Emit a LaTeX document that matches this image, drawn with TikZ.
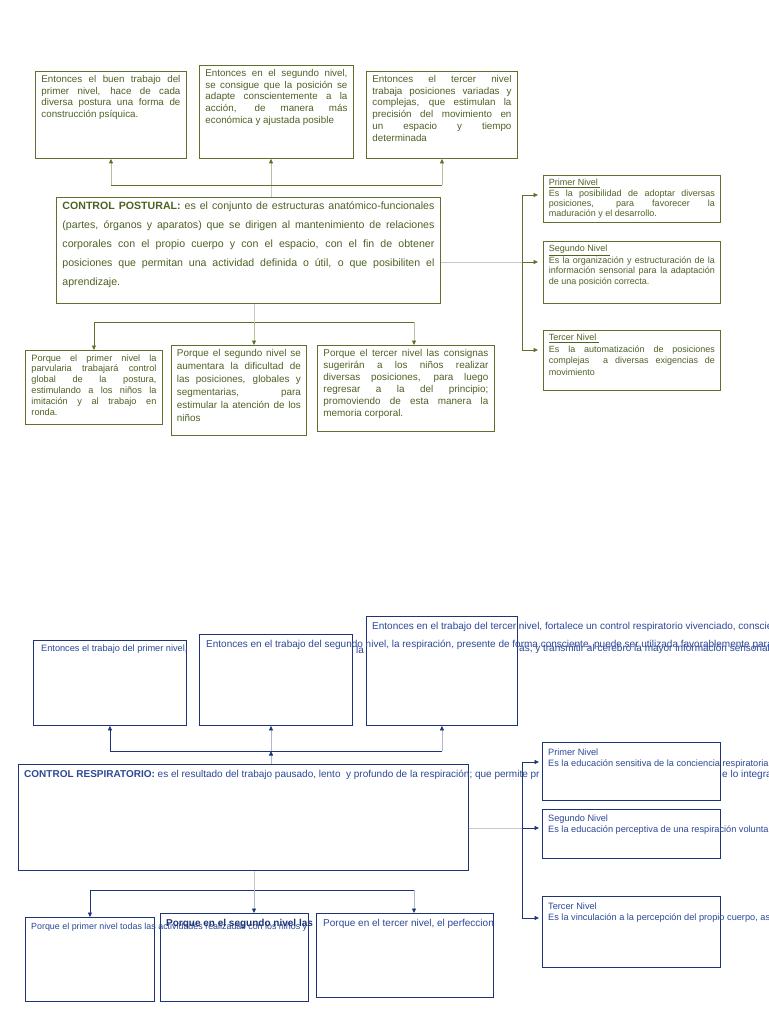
\documentclass[tikz,border=0pt]{standalone}
\usepackage{fontspec}
\setmainfont{Liberation Sans}
\usetikzlibrary{arrows.meta,positioning}
\definecolor{olv}{RGB}{94,112,44}
\definecolor{olvtxt}{RGB}{78,98,36}
\definecolor{nvy}{RGB}{30,52,118}
\definecolor{nvytxt}{RGB}{44,72,152}
\newcommand{\bx}[3]{\parbox[t][#2][t]{#1}{\sloppy\hyphenpenalty=10000 #3}}

\begin{document}
\begin{tikzpicture}[x=1pt,y=-1pt,
  gbox/.style={draw=olv,line width=0.9pt,fill=white,text=olvtxt,anchor=north west,
               inner xsep=6pt,inner ysep=4pt,font=\fontsize{9.8}{11.7}\selectfont},
  nbox/.style={draw=nvy,line width=0.9pt,fill=white,anchor=north west,inner sep=0pt},
  ntxt/.style={text=nvytxt,anchor=base west,inner sep=0pt,font=\fontsize{10}{12}\selectfont},
  nsml/.style={ntxt,font=\fontsize{9.2}{11}\selectfont},
  gl/.style={draw=olv,line width=0.8pt},
  nl/.style={draw=nvy,line width=0.8pt},
  lt/.style={draw=black!22,line width=0.8pt},
  ga/.style={gl,-{Triangle[length=4.5pt,width=4pt]}},
  gs/.style={ga,draw=olv!45,-{Triangle[length=4.5pt,width=4pt,color=olv]}},
  na/.style={nl,-{Triangle[length=4.5pt,width=4pt]}},
  ns/.style={na,draw=nvy!35,-{Triangle[length=4.5pt,width=4pt,color=nvy]}}]

\fill[white] (0,0) rectangle (768,1024);
\useasboundingbox (0,0) rectangle (768,1024);

% ---- control postural ----
\node[gbox] (pt1) at (35,71) {\bx{139pt}{79pt}{Entonces el buen trabajo del\linebreak primer nivel, hace de cada\linebreak diversa postura una forma de\linebreak construcción psíquica.}};
\node[gbox] (pt2) at (199,65) {\bx{142pt}{85pt}{Entonces en el segundo nivel,\linebreak se consigue que la posición se\linebreak adapte conscientemente a la\linebreak acción, de manera más\linebreak económica y ajustada posible}};
\node[gbox] (pt3) at (366,71) {\bx{139pt}{79pt}{Entonces el tercer nivel\linebreak trabaja posiciones variadas y\linebreak complejas, que estimulan la\linebreak precisión del movimiento en\linebreak un espacio y tiempo\linebreak determinada}};

\node[gbox,font=\fontsize{10.6}{19}\selectfont] (pc) at (56,197) {\bx{372pt}{98pt}{\textbf{CONTROL POSTURAL:} es el conjunto de estructuras anatómico-funcionales\linebreak (partes, órganos y aparatos) que se dirigen al mantenimiento de relaciones\linebreak corporales con el propio cuerpo y con el espacio, con el fin de obtener\linebreak posiciones que permitan una actividad definida o útil, o que posibiliten el\linebreak aprendizaje.}};

\node[gbox,inner xsep=5.5pt,font=\fontsize{9}{10.3}\selectfont] (pr1) at (543,175) {\bx{166pt}{39pt}{\underline{Primer Nivel\ }\\ Es la posibilidad de adoptar diversas\linebreak posiciones, para favorecer la\linebreak maduración y el desarrollo.}};
\node[gbox,inner xsep=5.5pt,font=\fontsize{9}{10.3}\selectfont] (pr2) at (543,241) {\bx{166pt}{54pt}{\underline{Segundo Nivel\ }\\ Es la organización y estructuración de la\linebreak información sensorial para la adaptación\linebreak de una posición correcta.}};
\node[gbox,inner xsep=5.5pt,font=\fontsize{9}{11.5}\selectfont] (pr3) at (543,330) {\bx{166pt}{52pt}{\underline{Tercer Nivel\ }\\ Es la automatización de posiciones\linebreak complejas\ \ a diversas exigencias de\linebreak movimiento}};

\node[gbox,font=\fontsize{9.2}{10.8}\selectfont] (pb1) at (25,350) {\bx{125pt}{66pt}{Porque el primer nivel la\linebreak parvularia trabajará control\linebreak global de la postura,\linebreak estimulando a los niños la\linebreak imitación y al trabajo en\linebreak ronda.}};
\node[gbox,inner xsep=5.5pt,font=\fontsize{9.9}{13}\selectfont] (pb2) at (171,345) {\bx{124pt}{82pt}{Porque el segundo nivel se\linebreak aumentara la dificultad de\linebreak las posiciones, globales y\linebreak segmentarias, para\linebreak estimular la atención de los\linebreak niños}};
\node[gbox,font=\fontsize{9.9}{12}\selectfont] (pb3) at (317,345) {\bx{165pt}{78pt}{Porque el tercer nivel las consignas\linebreak sugerirán a los niños realizar\linebreak diversas posiciones, para luego\linebreak regresar a la del principio;\linebreak promoviendo de esta manera la\linebreak memoria corporal.}};

\coordinate (tj) at (271,185);
\draw[lt] (pc.north -| tj) -- (tj);
\draw[gl] (tj -| pt1.south) -- (tj -| pt3.south);
\draw[gs] (tj -| pt1.south) -- (pt1.south);
\draw[gs] (tj) -- (tj |- pt2.south);
\draw[gs] (tj -| pt3.south) -- (pt3.south);

\coordinate (bj) at (254,322);
\coordinate (bj3) at (414,322);
\draw[lt] (bj |- pc.south) -- (bj);
\draw[gl] (bj -| pb1.north) -- (bj3);
\draw[ga] (bj -| pb1.north) -- (pb1.north);
\draw[gs] (bj) -- (bj |- pb2.north);
\draw[gs] (bj3) -- (bj3 |- pb3.north);

\coordinate (rj1) at (522,195);
\coordinate (rj) at (522,262);
\coordinate (rj3) at (522,350);
\draw[lt] (rj -| pc.east) -- (rj);
\draw[gl] (rj1) -- (rj3);
\draw[ga,shorten >=5pt] (rj1) -- (rj1 -| pr1.west);
\draw[ga,shorten >=5pt] (rj) -- (rj -| pr2.west);
\draw[ga,shorten >=5pt] (rj3) -- (rj3 -| pr3.west);

% ---- control respiratorio ----
\node[nbox,minimum width=153pt,minimum height=85pt] (rt1) at (33,640) {};
\node[nsml] (rt1a) at (41,651) {Entonces el trabajo del primer nivel,};
\node[ntxt] (rt1b) at (356,653) {la r};
\node[ntxt] (rt1c) at (519,651) {as, y transmitir al cerebro la mayor información sensorial};
\node[nbox,minimum width=153pt,minimum height=91pt] (rt2) at (199,634) {};
\node[nbox,minimum width=151pt,minimum height=109pt] (rt3) at (366,616) {};
\node[ntxt] (rt2a) at (206,647) {Entonces en el trabajo del segundo nivel, la respiración, presente de forma consciente, puede ser utilizada favorablemente para};
\node[ntxt] (rt3a) at (372,629) {Entonces en el trabajo del tercer nivel, fortalece un control respiratorio vivenciado, consciente};

\node[nbox,minimum width=450pt,minimum height=106pt] (rc) at (18,764) {};
\node[ntxt] (rca) at (24,777) {\textbf{CONTROL RESPIRATORIO:} es el resultado del trabajo pausado, lento\ \ y profundo de la respiración; que permite pr};

\node[nbox,minimum width=178pt,minimum height=58pt] (rr1) at (542,742) {};
\node[nbox,minimum width=178pt,minimum height=49pt] (rr2) at (542,809) {};
\node[nbox,minimum width=178pt,minimum height=71pt] (rr3) at (542,896) {};
\node[ntxt] (rcb) at (722,777) {e lo integra};
\node[nsml] (rr1a) at (548,755) {Primer Nivel};
\node[nsml] (rr1b) at (548,766) {Es la educación sensitiva de la conciencia respiratoria};
\node[nsml] (rr2a) at (548,821) {Segundo Nivel};
\node[nsml] (rr2b) at (548,832) {Es la educación perceptiva de una respiración voluntaria};
\node[nsml] (rr3a) at (548,909) {Tercer Nivel};
\node[nsml] (rr3b) at (548,920) {Es la vinculación a la percepción del propio cuerpo, asi};

\node[nbox,minimum width=129pt,minimum height=84pt] (rb1) at (25,917) {};
\node[nbox,minimum width=148pt,minimum height=88pt] (rb2) at (160,913) {};
\node[nbox,minimum width=177pt,minimum height=84pt] (rb3) at (316,913) {};
\node[nsml,font=\fontsize{8.9}{11}\selectfont] (rb1a) at (31,929) {Porque el primer nivel todas las actividades realizadas con los niños y};
\node[ntxt,text=nvy] (rb2a) at (166,926) {\textbf{Porque en el segundo nivel las}};
\node[ntxt] (rb3a) at (323,926) {Porque en el tercer nivel, el perfeccion};

\coordinate (tk) at (271,751);
\draw[ns] (rc.north -| tk) -- (tk);
\draw[nl] (tk -| rt1.south) -- (tk -| rt3.south);
\draw[na] (tk -| rt1.south) -- (rt1.south);
\draw[ns] (tk) -- (tk |- rt2.south);
\draw[ns] (tk -| rt3.south) -- (rt3.south);

\coordinate (bk) at (254,890);
\coordinate (bk3) at (414,890);
\draw[lt] (bk |- rc.south) -- (bk);
\draw[nl] (bk -| rb1.north) -- (bk3);
\draw[na] (bk -| rb1.north) -- (rb1.north);
\draw[ns] (bk) -- (bk |- rb2.north);
\draw[ns] (bk3) -- (bk3 |- rb3.north);

\coordinate (rk1) at (522,762);
\coordinate (rk) at (522,828);
\coordinate (rk3) at (522,918);
\draw[lt] (rk -| rc.east) -- (rk);
\draw[nl] (rk1) -- (rk3);
\draw[na,shorten >=3pt] (rk1) -- (rk1 -| rr1.west);
\draw[na,shorten >=3pt] (rk) -- (rk -| rr2.west);
\draw[na,shorten >=3pt] (rk3) -- (rk3 -| rr3.west);
\end{tikzpicture}
\end{document}
